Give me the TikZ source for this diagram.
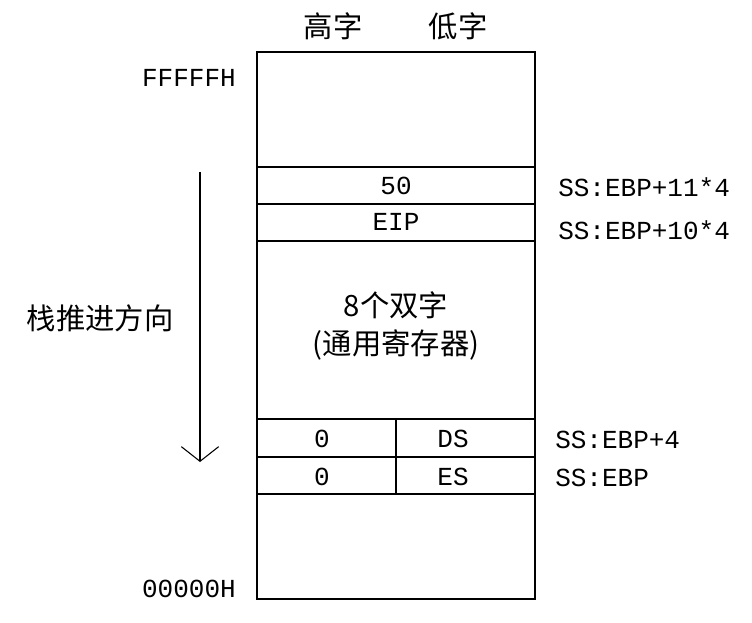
\documentclass[tikz,border=0pt]{standalone}
\usepackage{fontspec}
\setmainfont{Liberation Mono}
\newfontfamily\cjk{Noto Sans CJK SC}[BoldFont={Noto Sans CJK SC}]
\usetikzlibrary{arrows.meta}
\begin{document}
\begin{tikzpicture}[x=0.75pt,y=-0.75pt,
  box/.style={draw,line width=0.8pt},
  lab/.style={font=\fontsize{19.5}{22}\selectfont,inner sep=0pt},
  zh/.style={font=\cjk\fontsize{22}{26}\selectfont,inner sep=0pt}]
\useasboundingbox (0,0) rectangle (752,623);
\draw[box] (257,52) rectangle (535,599);
\foreach \y in {167,204,241,419,457,494} \draw[box] (257,\y) -- (535,\y);
\draw[box] (396,419) -- (396,494);
\coordinate (a1) at (200,172);
\coordinate (a2) at (200,462);
\draw[line width=0.8pt,-{Straight Barb[length=11pt,width=28pt]}] (a1) -- (a2);
\node[zh] (h) at (333,26) {高字};
\node[zh] (l) at (458,26) {低字};
\node[lab,anchor=east] (f) at (236,78) {FFFFFH};
\node[lab,anchor=east] (z) at (236,589) {00000H};
\node[lab] (n50) at (396,186) {50};
\node[lab] (eip) at (396,222) {EIP};
\node[zh] (d1) at (396,305) {8个双字};
\node[zh] (d2) at (396,345) {(通用寄存器)};
\node[lab] (z1) at (322,439) {0};
\node[lab] (ds) at (453,439) {DS};
\node[lab] (z2) at (322,477) {0};
\node[lab] (es) at (453,477) {ES};
\node[lab,anchor=west] (r1) at (558,187) {SS:EBP+11*4};
\node[lab,anchor=west] (r2) at (558,230) {SS:EBP+10*4};
\node[lab,anchor=west] (r3) at (555,440) {SS:EBP+4};
\node[lab,anchor=west] (r4) at (555,478) {SS:EBP};
\node[zh] (dir) at (100,318) {栈推进方向};
\end{tikzpicture}
\end{document}
